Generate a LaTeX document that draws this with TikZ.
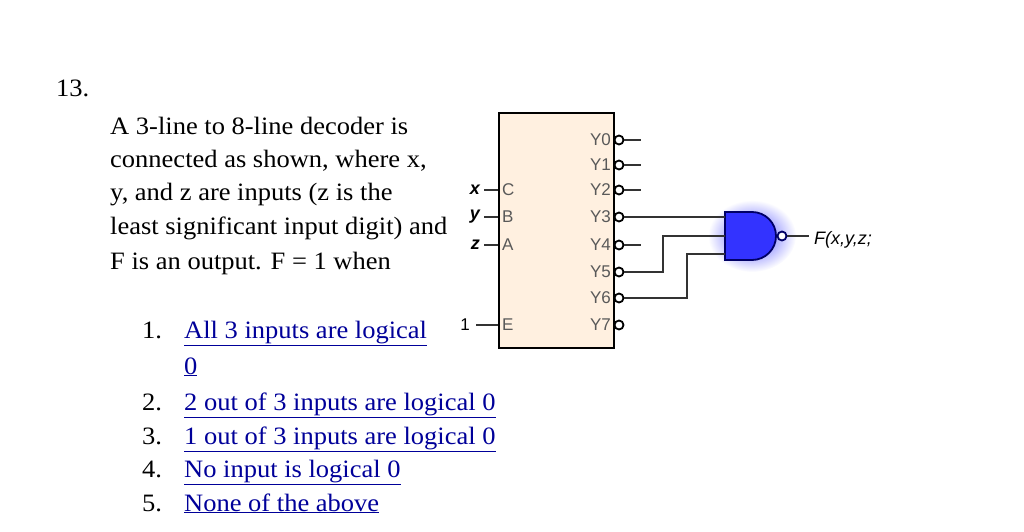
\documentclass[tikz,border=0pt]{standalone}
\usepackage{fontspec}
\setmainfont{Liberation Serif}[FakeStretch=1.06]
\newfontfamily\sansf{Liberation Sans}
\begin{document}
\begin{tikzpicture}[x=1pt,y=-1pt,
  txt/.style={anchor=base west,inner sep=0pt,font=\fontsize{25}{25}\selectfont},
  lnk/.style={txt,text=blue!60!black},
  pin/.style={font=\sansf\fontsize{17}{17}\selectfont,text=gray!70!black,inner sep=0pt},
  inl/.style={font=\sansf\bfseries\itshape\fontsize{18}{18}\selectfont,inner sep=0pt},
  wire/.style={line width=1.1pt,draw=black!80},
  bub/.style={circle,draw=black,line width=1.8pt,fill=white,minimum size=9pt,inner sep=0pt}]
\useasboundingbox (0,0) rectangle (1024,532);
\node[txt] (n13) at (56,97) {13.};
\node[txt] (l1) at (110,134) {A 3-line to 8-line decoder is};
\node[txt] (l2) at (110,167) {connected as shown, where x,};
\node[txt] (l3) at (110,200) {y, and z are inputs (z is the};
\node[txt] (l4) at (110,234) {least significant input digit) and};
\node[txt] (l5) at (110,269) {F is an output. F = 1 when};
\foreach \n/\y in {1/338,2/410,3/444,4/477,5/511}{\node[txt] (k\n) at (142,\y) {\n.};}
\node[lnk] (a1) at (184,338) {\underline{All 3 inputs are logical}};
\node[lnk] (a1b) at (184,374) {\underline{0}};
\node[lnk] (a2) at (184,410) {\underline{2 out of 3 inputs are logical 0}};
\node[lnk] (a3) at (184,444) {\underline{1 out of 3 inputs are logical 0}};
\node[lnk] (a4) at (184,477) {\underline{No input is logical 0}};
\node[lnk] (a5) at (184,511) {\underline{None of the above}};
% decoder
\node[draw=black,line width=1.8pt,fill=orange!12!white,minimum width=115pt,minimum height=235pt,anchor=north west,inner sep=0pt] (dec) at (498,112) {};
\foreach \i/\y in {0/140,1/165,2/190,3/217,4/245,5/272,6/298,7/325}{
  \node[pin,anchor=east] (Y\i) at (611,\y) {Y\i};
  \node[bub] (b\i) at (619,\y) {};
}
\foreach \i in {0,1,2,4}{\coordinate (s\i) at ([xshift=22pt]b\i.center); \draw[wire] (b\i.east) -- (s\i);}
\foreach \l/\y/\t in {C/190/x,B/217/y,A/245/z}{
  \node[pin,anchor=west] (p\l) at (502,\y) {\l};
  \node[inl,anchor=east] (i\l) at (480,\y) {\t};
  \draw[wire] (i\l.east)++(4,0) -- (dec.west |- p\l);
}
\node[pin,anchor=west] (pE) at (502,325) {E};
\node[pin,text=black,anchor=east] (iE) at (470,325) {1};
\draw[wire] (iE.east)++(6,0) -- (dec.west |- pE);
% NAND
\shade[inner color=blue!70,outer color=white] (752,236) ellipse (44 and 36);
\draw[line width=1.8pt,draw=blue!40!black,fill=blue!80!white] (725,212) -- (752,212) arc (-90:90:24) -- (725,260) -- cycle;
\node[bub,draw=blue!40!black] (gb) at (782,236) {};
\coordinate (g1) at (725,217); \coordinate (g2) at (725,236); \coordinate (g3) at (725,254);
\draw[wire] (b3.east) -- (g1);
\draw[wire] (b5.east) -- (663,272) |- (g2);
\draw[wire] (b6.east) -- (687,298) |- (g3);
\node[font=\sansf\itshape\fontsize{18}{18}\selectfont,inner sep=0pt,anchor=west] (F) at (814,240) {F(x,y,z;};
\draw[wire] (gb.east) -- ([xshift=-5pt]gb.east -| F.west);
\end{tikzpicture}
\end{document}
